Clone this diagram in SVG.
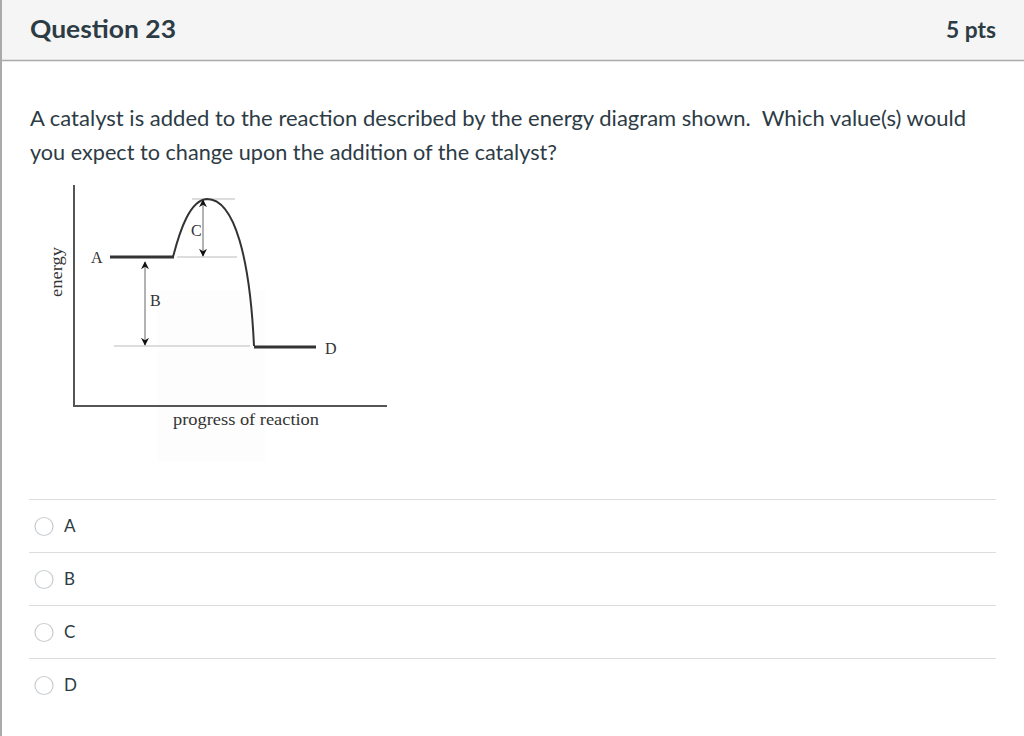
<svg xmlns="http://www.w3.org/2000/svg" width="1024" height="736" viewBox="0 0 1024 736">
<style>
.ui{font-family:Lato,"Liberation Sans",sans-serif;fill:#2d3b45}
.sf{font-family:"Liberation Serif","DejaVu Serif",serif;fill:#333;font-size:16px}
.thin{stroke:#bbb;stroke-width:1;fill:none}
.arr{stroke:#666;stroke-width:1;fill:none}
.thick{stroke:#333;stroke-width:3;fill:none}
.sep{stroke:#ddd;stroke-width:1}
.radio{fill:#fff;stroke:#c7cdd1;stroke-width:1.2}
</style>
<defs>
<marker id="ah" viewBox="0 0 10 10" refX="9" refY="5" markerWidth="8" markerHeight="8" orient="auto-start-reverse" markerUnits="userSpaceOnUse">
<path d="M0,0 L10,5 L0,10 L3,5 z" fill="#111"/>
</marker>
</defs>
<rect width="1024" height="736" fill="#fff"/>
<g id="header">
<rect x="0" y="0" width="1024" height="60" fill="#f5f5f5"/>
<line x1="0" y1="60.5" x2="1024" y2="60.5" stroke="#aaa" stroke-width="1.5"/>
<text class="ui" x="30" y="38" font-size="25" font-weight="700" textLength="146" lengthAdjust="spacingAndGlyphs">Question 23</text>
<text class="ui" x="996" y="38" font-size="22" font-weight="700" text-anchor="end" fill="#555" textLength="50" lengthAdjust="spacingAndGlyphs">5 pts</text>
</g>
<line x1="1" y1="0" x2="1" y2="736" stroke="#aaa" stroke-width="2"/>
<g id="question">
<text class="ui" x="30" y="126" font-size="21.5" textLength="936" lengthAdjust="spacingAndGlyphs" xml:space="preserve">A catalyst is added to the reaction described by the energy diagram shown.  Which value(s) would</text>
<text class="ui" x="30" y="160" font-size="21.5" textLength="527" lengthAdjust="spacingAndGlyphs">you expect to change upon the addition of the catalyst?</text>
</g>
<g id="diagram">
<rect x="157" y="290" width="108" height="172" fill="#fdfdfd"/>
<path d="M74,185 V406 H387" stroke="#555" stroke-width="2" fill="none"/>
<line class="thin" x1="192" y1="199" x2="235" y2="199"/>
<line class="thin" x1="177" y1="257" x2="237" y2="257"/>
<line class="thin" x1="114" y1="346" x2="250" y2="346"/>
<line class="thick" x1="110" y1="257" x2="174" y2="257"/>
<path d="M173,257 C180,230 190,200 207,199 C235,199 250,260 254,346" stroke="#333" stroke-width="2" fill="none"/>
<line class="thick" x1="254" y1="347" x2="316" y2="347"/>
<line class="arr" x1="203" y1="200" x2="203" y2="256" marker-start="url(#ah)" marker-end="url(#ah)"/>
<line class="arr" x1="145" y1="262" x2="145" y2="345" marker-start="url(#ah)" marker-end="url(#ah)"/>
<text class="sf" x="91" y="263">A</text>
<text class="sf" x="191" y="236">C</text>
<text class="sf" x="150" y="306">B</text>
<text class="sf" x="325" y="354">D</text>
<text class="sf" x="57" y="272" text-anchor="middle" transform="rotate(-90 57 272)" dy="5" textLength="50" lengthAdjust="spacingAndGlyphs">energy</text>
<text class="sf" x="173" y="425" font-size="18" textLength="146" lengthAdjust="spacingAndGlyphs">progress of reaction</text>
</g>
<g id="options">
<line class="sep" x1="29" y1="499.5" x2="996" y2="499.5"/>
<line class="sep" x1="29" y1="552.5" x2="996" y2="552.5"/>
<line class="sep" x1="29" y1="605.5" x2="996" y2="605.5"/>
<line class="sep" x1="29" y1="658.5" x2="996" y2="658.5"/>
<g id="optA"><circle class="radio" cx="44" cy="526.5" r="9"/><text class="ui" x="64" y="532" font-size="17">A</text></g>
<g id="optB"><circle class="radio" cx="44" cy="579.5" r="9"/><text class="ui" x="64" y="585" font-size="17">B</text></g>
<g id="optC"><circle class="radio" cx="44" cy="632.5" r="9"/><text class="ui" x="64" y="638" font-size="17">C</text></g>
<g id="optD"><circle class="radio" cx="44" cy="685.5" r="9"/><text class="ui" x="64" y="691" font-size="17">D</text></g>
</g>
</svg>
